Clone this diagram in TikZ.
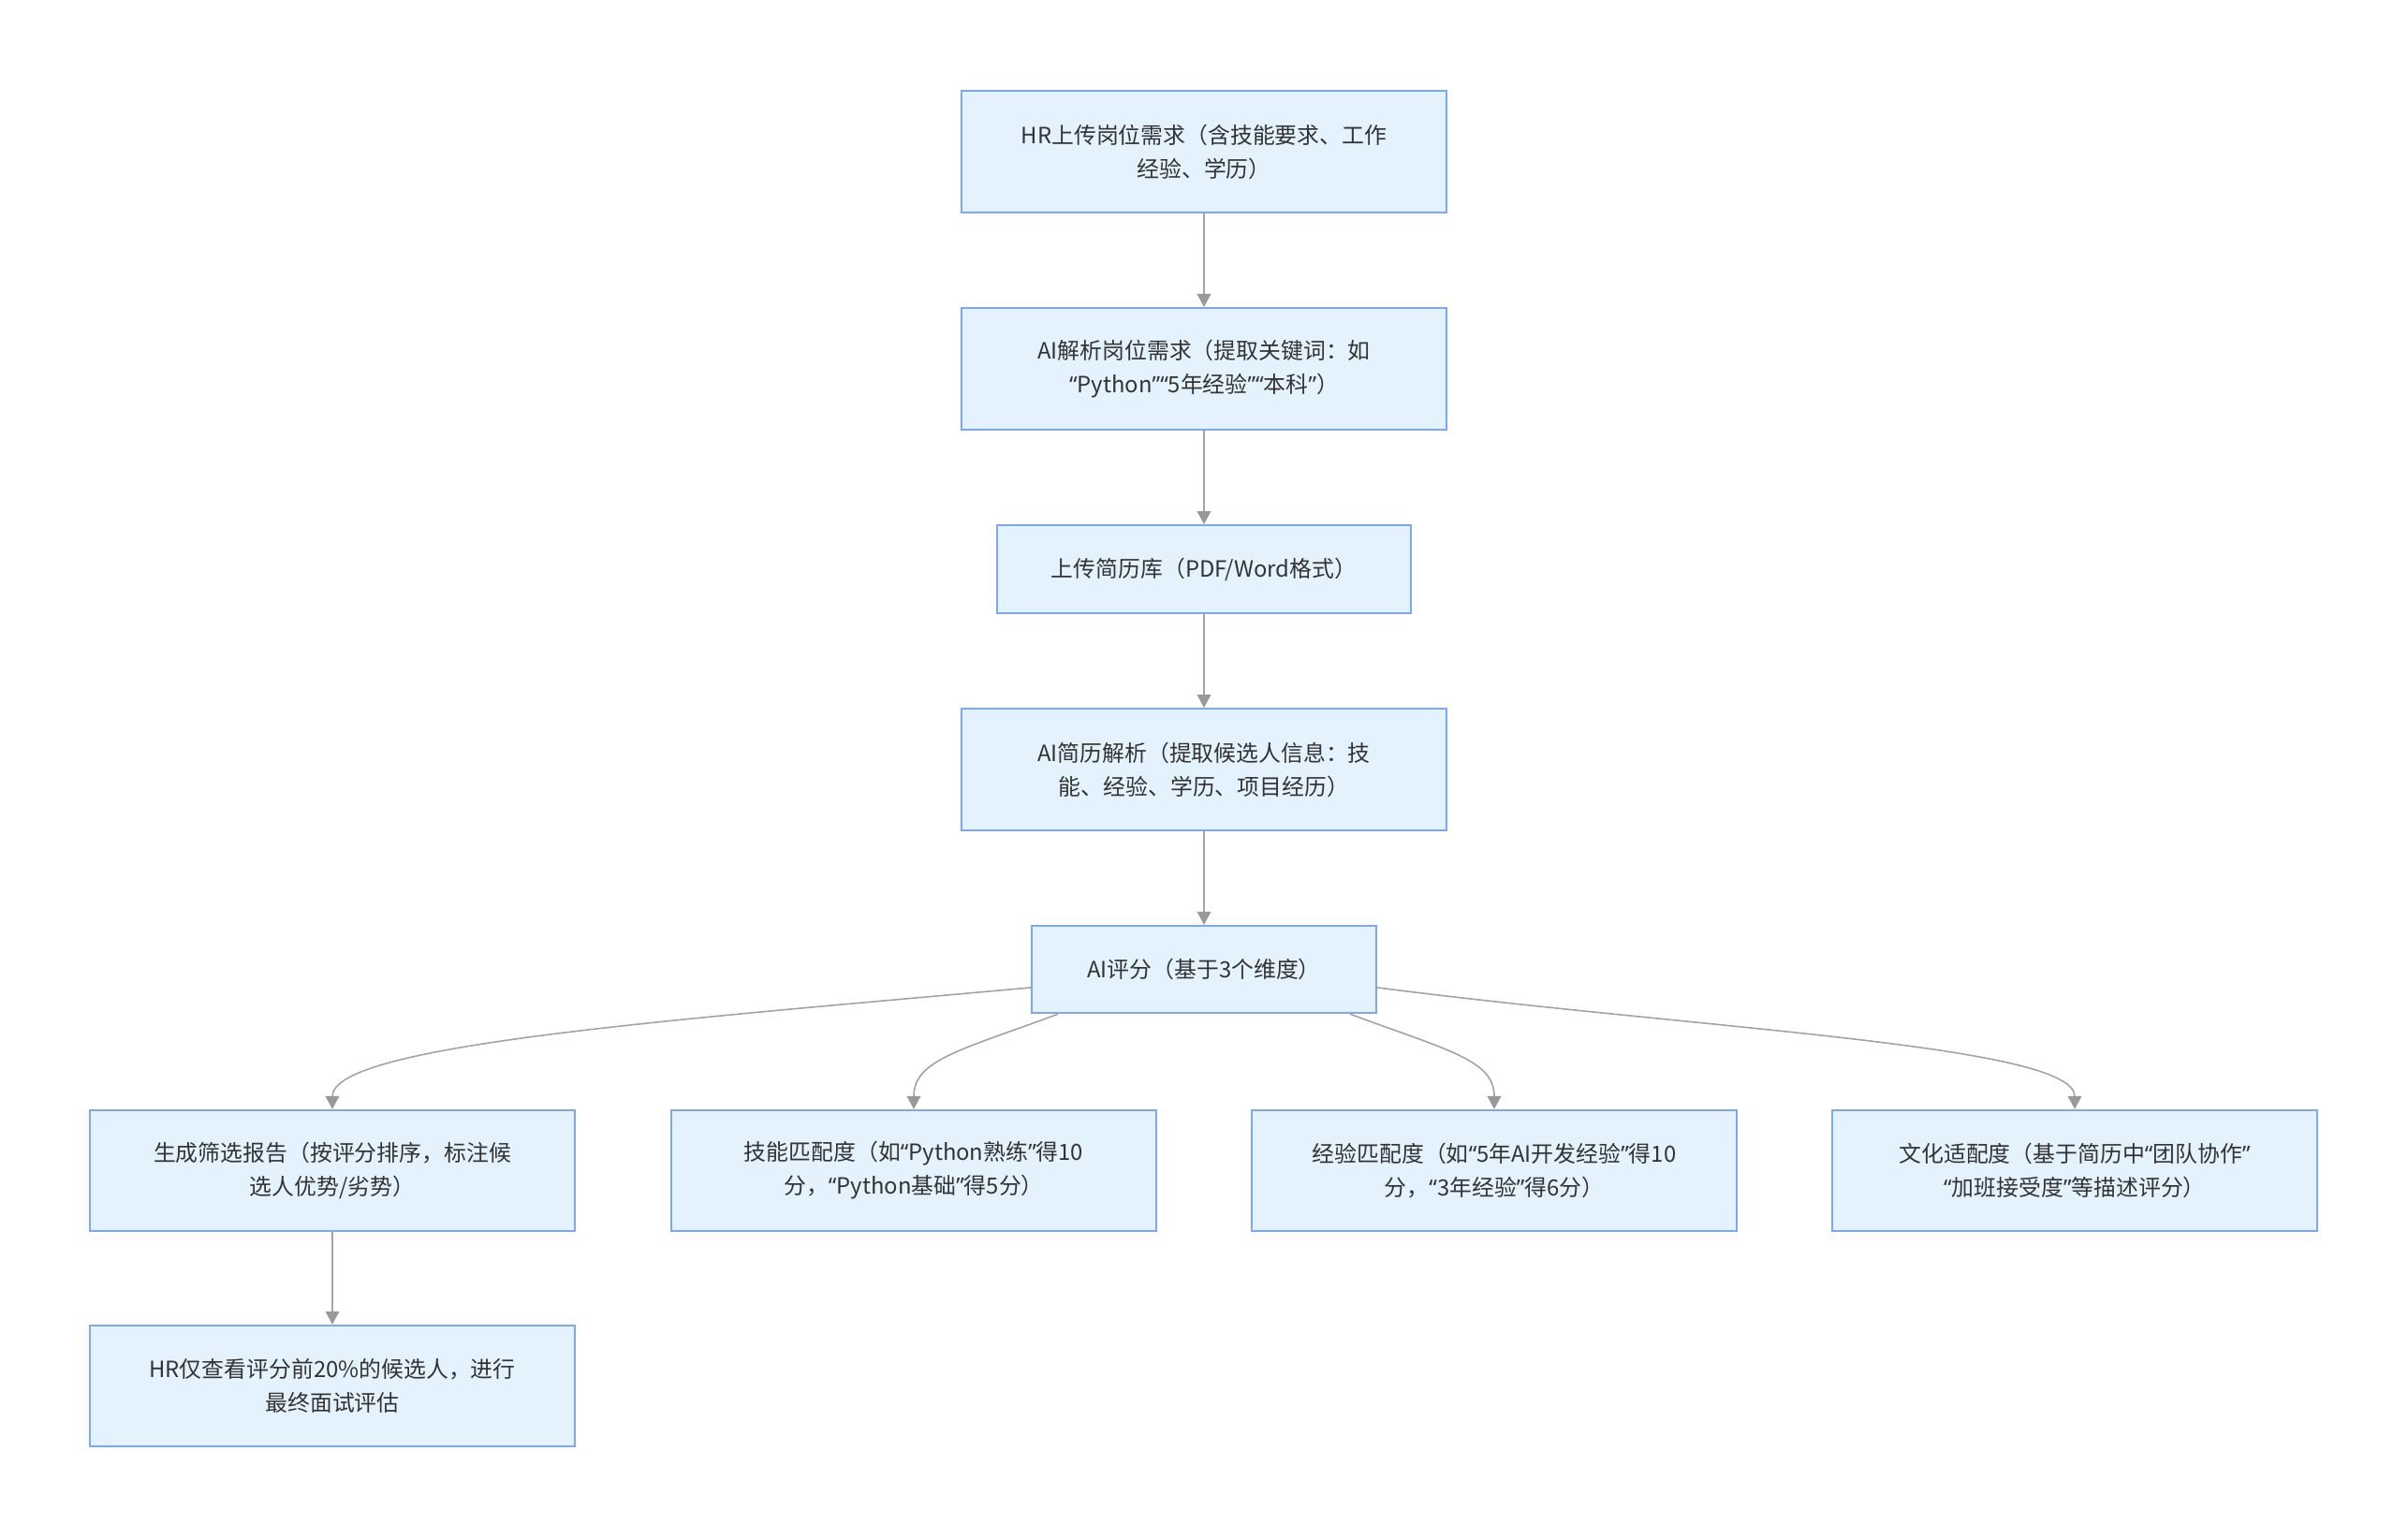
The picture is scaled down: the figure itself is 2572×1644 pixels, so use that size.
\documentclass[tikz,border=0pt]{standalone}
\usepackage{fontspec}
\setmainfont{Noto Sans CJK SC}
\newfontfamily\quotefont{Noto Sans}
\newcommand\oq{{\quotefont “}}
\newcommand\cq{{\quotefont ”}}
\usetikzlibrary{arrows.meta}
\definecolor{boxfill}{HTML}{E3F2FD}
\definecolor{boxline}{HTML}{7BA7F5}
\definecolor{edgec}{HTML}{A3A3A3}
\definecolor{tipc}{HTML}{999999}
\definecolor{txt}{HTML}{333333}
\begin{document}
\begin{tikzpicture}[x=0.75pt,y=-0.75pt,
  box/.style={draw=boxline, fill=boxfill, line width=1.5pt, text=txt, align=center,
    font=\fontsize{17.9}{27}\selectfont, inner sep=0pt},
  tallbox/.style={box, minimum width=389pt, minimum height=97.5pt},
  rowbox/.style={box, minimum width=389pt, minimum height=97pt},
  flow/.style={draw=edgec, line width=1.2pt,
    -{Triangle[length=10.5pt,width=11pt,fill=tipc,color=tipc]}}]
\useasboundingbox (0,0) rectangle (2572,1644);

\node[tallbox] (n1) at (1286,162) {HR上传岗位需求（含技能要求、工作\\经验、学历）};
\node[tallbox] (n2) at (1286,394) {AI解析岗位需求（提取关键词：如\\\oq Python\cq\oq 5年经验\cq\oq 本科\cq）};
\node[box, minimum width=332pt, minimum height=70.5pt] (n3) at (1286,608) {上传简历库（PDF/Word格式）};
\node[tallbox] (n4) at (1286,822) {AI简历解析（提取候选人信息：技\\能、经验、学历、项目经历）};
\node[box, minimum width=276pt, minimum height=70pt] (n5) at (1286,1035.5) {AI评分（基于3个维度）};

\node[rowbox] (a) at (355,1250.5) {生成筛选报告（按评分排序，标注候\\选人优势/劣势）};
\node[rowbox] (b) at (976,1250.5) {技能匹配度（如\oq Python熟练\cq 得10\\分，\oq Python基础\cq 得5分）};
\node[rowbox] (c) at (1596,1250.5) {经验匹配度（如\oq 5年AI开发经验\cq 得10\\分，\oq 3年经验\cq 得6分）};
\node[rowbox] (d) at (2216,1250.5) {文化适配度（基于简历中\oq 团队协作\cq\\\oq 加班接受度\cq 等描述评分）};
\node[rowbox] (e) at (355,1480.5) {HR仅查看评分前20\%的候选人，进行\\最终面试评估};

\draw[flow] (n1) -- (n2);
\draw[flow] (n2) -- (n3);
\draw[flow] (n3) -- (n4);
\draw[flow] (n4) -- (n5);
\draw[flow] (n5.186) .. controls (715,1090) and (355,1116) .. (a.north);
\draw[flow] (n5.197) .. controls (1026,1122) and (976,1132) .. (b.north);
\draw[flow] (n5.343) .. controls (1546,1122) and (1596,1132) .. (c.north);
\draw[flow] (n5.354) .. controls (1820,1100) and (2216,1116) .. (d.north);
\draw[flow] (a) -- (e);
\end{tikzpicture}
\end{document}
